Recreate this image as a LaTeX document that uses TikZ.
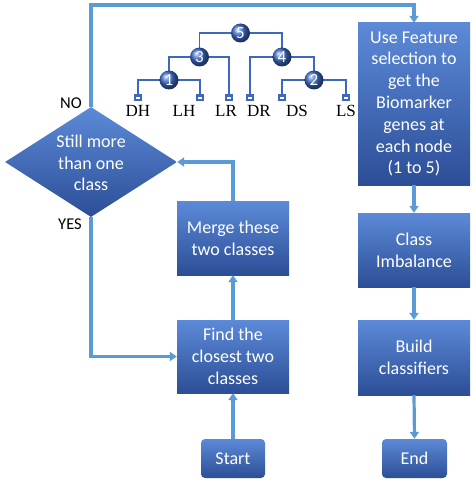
\documentclass[tikz,border=0pt]{standalone}
\usepackage{fontspec}
\setmainfont{Carlito}
\newfontfamily\serifl{Liberation Serif}
\usetikzlibrary{shapes.geometric,arrows.meta}
\definecolor{boxtop}{RGB}{92,138,216}
\definecolor{boxbot}{RGB}{44,78,150}
\definecolor{arrc}{RGB}{91,155,213}
\definecolor{treec}{RGB}{60,104,190}
\definecolor{ballc}{RGB}{62,108,200}
\tikzset{
  x=1pt,y=-1pt,
  flowbox/.style={rectangle, minimum width=112pt, inner sep=0pt, top color=boxtop, bottom color=boxbot, draw=none,
    text=white, font=\fontsize{18}{21.8}\selectfont, align=center},
  termbox/.style={flowbox, rounded corners=4pt, minimum width=65pt, minimum height=39pt},
  arr/.style={draw=arrc, line width=3.2pt, -{Triangle[width=9pt,length=7pt]}},
  treeline/.style={draw=treec, line width=1.9pt},
  tnode/.style={circle, minimum size=19pt, inner sep=0pt, shading=ball, ball color=ballc, text=white, font=\fontsize{17}{17}\selectfont},
  leaf/.style={rectangle, minimum width=8pt, minimum height=7pt, inner sep=0pt, fill=treec,
    path picture={\fill[white] ([xshift=-2pt,yshift=-1pt]path picture bounding box.center) rectangle ++(4pt,2pt);}},
  leaflab/.style={font=\serifl\fontsize{17}{17}\selectfont, inner sep=0pt},
  yn/.style={font=\fontsize{16.5}{16.5}\selectfont, inner sep=0pt}
}
\begin{document}
\begin{tikzpicture}
\useasboundingbox (0,0) rectangle (474,484);
% right column
\node[flowbox, minimum height=162pt] (feat) at (414,104) {Use Feature\\selection to\\get the\\Biomarker\\genes at\\each node\\(1 to 5)};
\node[flowbox, minimum height=74pt] (imb) at (414,250) {Class\\Imbalance};
\node[flowbox, minimum height=75pt] (build) at (414,357.5) {Build\\classifiers};
\node[termbox] (end) at (414.5,458.5) {End};
% middle column
\node[flowbox, minimum height=74pt] (merge) at (233,238) {Merge these\\two classes};
\node[flowbox, minimum height=73pt] (find) at (233,356.5) {Find the\\closest two\\classes};
\node[termbox, minimum width=64pt] (start) at (233,458.5) {Start};
% decision
\node[diamond, minimum width=172pt, minimum height=110pt, inner sep=0pt, top color=boxtop, bottom color=boxbot] (dia) at (91,162) {};
\node[text=white, font=\fontsize{18}{21.8}\selectfont, align=center] (diatext) at (91,163) {Still more\\than one\\class};
\node[yn] (no) at (71,103) {NO};
\node[yn] (yes) at (70,224) {YES};
% connectors
\coordinate (tl) at (91,5);
\coordinate (tr) at (414,5);
\draw[arr] (dia.north) -- (tl) -- (tr) -- (feat.north);
\draw[arr] (feat.south) -- (imb.north);
\draw[arr] (imb.south) -- (build.north);
\draw[arr] (build.south) -- (end.north);
\draw[arr] (start.north) -- (find.south);
\draw[arr] (find.north) -- (merge.south);
\draw[arr] (merge.north) |- (dia.east);
\draw[arr] (dia.south) |- (find.west);
% tree lines
\coordinate (p1) at (138,98);
\coordinate (p2) at (200,98);
\coordinate (p3) at (229,98);
\coordinate (p4) at (250,98);
\coordinate (p5) at (282,98);
\coordinate (p6) at (346,98);
\coordinate (c1) at (169,80);
\coordinate (c2) at (314,80);
\coordinate (c3) at (199.5,57);
\coordinate (c4) at (282,57);
\coordinate (c5) at (240.5,33);
\draw[treeline] (p1) |- (c1) -| (p2);
\draw[treeline] (c1) |- (c3) -| (p3);
\draw[treeline] (p4) |- (c4) -| (c2);
\draw[treeline] (p5) |- (c2) -| (p6);
\draw[treeline] (c3) |- (c5) -| (c4);
% tree nodes
\node[leaf] (l1) at (p1) {};
\node[leaf] (l2) at (p2) {};
\node[leaf] (l3) at (p3) {};
\node[leaf] (l4) at (p4) {};
\node[leaf] (l5) at (p5) {};
\node[leaf] (l6) at (p6) {};
\node[tnode] (n1) at (c1) {1};
\node[tnode] (n2) at (c2) {2};
\node[tnode] (n3) at (c3) {3};
\node[tnode] (n4) at (c4) {4};
\node[tnode] (n5) at (c5) {5};
\node[leaflab] (t1) at (138,110.5) {DH};
\node[leaflab] (t2) at (184,110.5) {LH};
\node[leaflab] (t3) at (226,110.5) {LR};
\node[leaflab] (t4) at (259,110.5) {DR};
\node[leaflab] (t5) at (297,110.5) {DS};
\node[leaflab] (t6) at (346,110.5) {LS};
\end{tikzpicture}
\end{document}
